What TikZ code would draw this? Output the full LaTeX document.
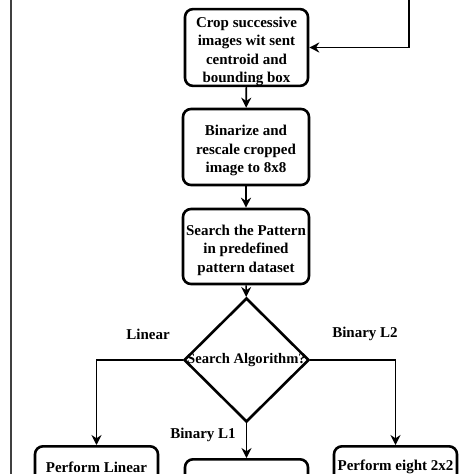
\documentclass[tikz,border=0pt]{standalone}
\usepackage{fontspec}
\setmainfont{Liberation Serif}
\usetikzlibrary{shapes.geometric,arrows.meta}
\newcommand{\topstrut}{\rule{0pt}{18pt}}
\begin{document}
\begin{tikzpicture}[x=1pt,y=-1pt,
  stepbox/.style={draw=black, line width=2.6pt, rounded corners=8pt, minimum width=123pt, minimum height=75pt, inner sep=0pt, align=center, font=\fontsize{15}{18.5}\selectfont\bfseries, fill=white},
  dec/.style={draw=black, line width=2.6pt, diamond, minimum width=125pt, minimum height=124pt, inner sep=0pt, font=\fontsize{14.6}{18}\selectfont\bfseries},
  lbl/.style={font=\fontsize{15}{18}\selectfont\bfseries, inner sep=0pt},
  conn/.style={draw=black, line width=1.6pt, -{Stealth[length=10pt,width=10pt]}},
  ]
\useasboundingbox (0,0) rectangle (474,474);
\clip (0,0) rectangle (474,474);
\fill[white] (0,0) rectangle (474,474);
% left border line
\coordinate (lt) at (11,-5);
\coordinate (lbt) at (11,480);
\draw[line width=1.8pt, black!75] (lt) -- (lbt);
% nodes
\node[stepbox] (b1) at (246.5,47.5) {\topstrut Crop successive\\images wit sent\\centroid and\\bounding box};
\node[stepbox, minimum width=126pt, minimum height=76pt] (b2) at (246,147) {\topstrut Binarize and\\rescale cropped\\image to 8x8};
\node[stepbox, minimum width=126pt] (b3) at (246,246.5) {\topstrut Search the Pattern\\in predefined\\pattern dataset};
\node[dec] (d) at (246.5,360) {\makebox[0pt]{Search Algorithm?}};
\node[stepbox, anchor=north, minimum height=70pt] (lb) at (96.5,445) {};
\node[stepbox, anchor=north, minimum height=70pt] (mb) at (246.5,458) {};
\node[stepbox, anchor=north, minimum height=70pt] (rb) at (395.5,445) {};
\node[lbl] (lbtext) at (96.5,467) {Perform Linear};
\node[lbl] (rbtext) at (395.5,467) {Perform eight 2x2};
% labels
\node[lbl] (lin) at (148,334) {Linear};
\node[lbl] (bl2) at (365,334) {Binary L2};
\node[lbl] (bl1) at (203,435) {Binary L1};
% connectors
\coordinate (rt) at (409,-5);
\draw[conn] (rt) |- (b1.east);
\draw[conn] (b1) -- (b2);
\draw[conn] (b2) -- (b3);
\draw[conn] (b3) -- (d);
\draw[conn] (d.west) -| (lb.north);
\draw[conn] (d.south) -- (mb.north);
\draw[conn] (d.east) -| (rb.north);
\end{tikzpicture}
\end{document}
